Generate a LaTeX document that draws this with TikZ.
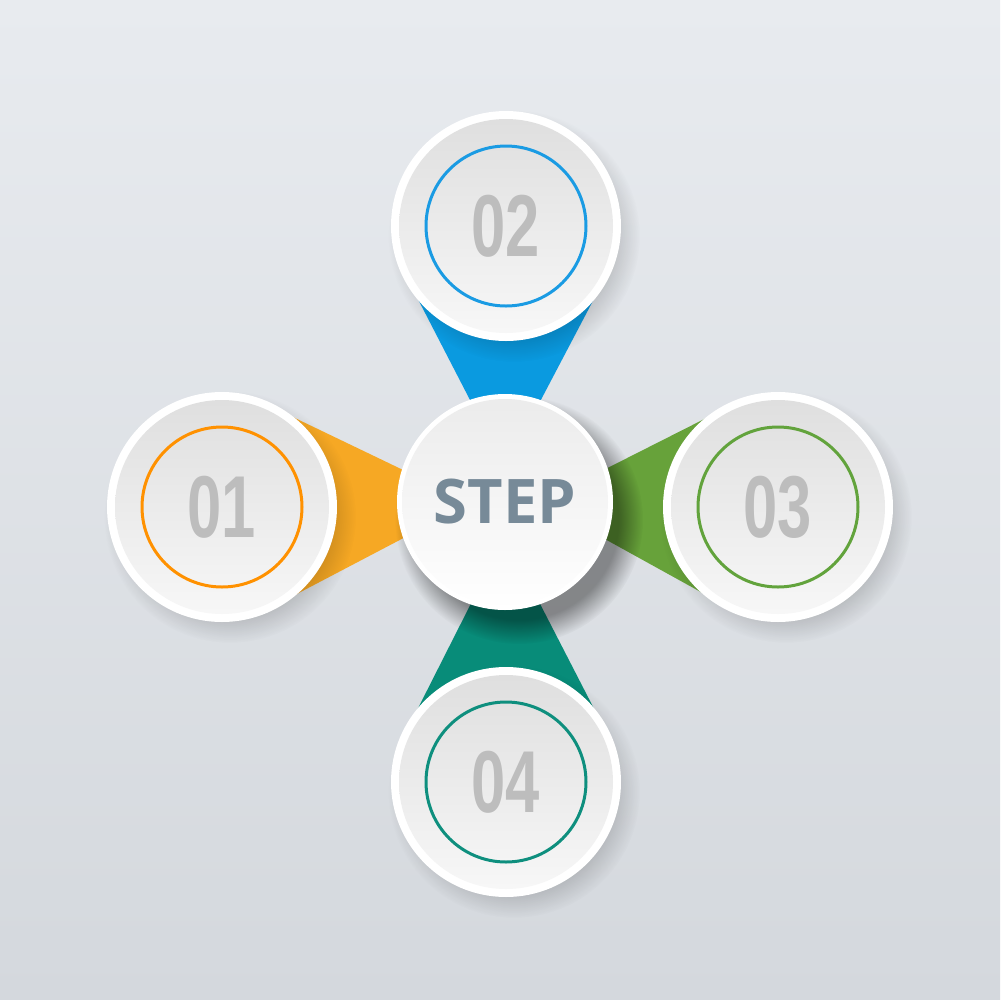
\documentclass[tikz,border=0pt]{standalone}
\usepackage{fontspec}
\usetikzlibrary{calc, fadings, backgrounds}

\newfontfamily\numfont{Liberation Sans}
\newfontfamily\stepfont{Open Sans}

\definecolor{bgTop}{HTML}{E8EBEF}
\definecolor{bgBot}{HTML}{D4D8DD}
\definecolor{diskTop}{HTML}{DEDEDE}
\definecolor{diskBot}{HTML}{F8F8F8}
\definecolor{hubTop}{HTML}{EBEBEB}
\definecolor{numGray}{HTML}{BDBDBD}
\definecolor{stepGray}{HTML}{778A98}
\definecolor{orangeRib}{HTML}{F6A824}
\definecolor{orangeRing}{HTML}{FF9100}
\definecolor{blueRib}{HTML}{0A9AE0}
\definecolor{blueRing}{HTML}{1A9BE3}
\definecolor{greenRib}{HTML}{67A23A}
\definecolor{greenRing}{HTML}{62A33C}
\definecolor{tealRib}{HTML}{088C79}
\definecolor{tealRing}{HTML}{0E8F7E}

\newcommand{\stepnum}[1]{\scalebox{0.7}[1]{#1}}

\begin{document}
\begin{tikzpicture}[
    x=0.1mm, y=-0.1mm, % 1 unit = 1 px of the layout
    % --- STYLES ---
    disc/.style={circle, fill=white, inner sep=0pt, minimum size=23mm,
        path picture={\shade[top color=diskTop, bottom color=diskBot]
            (path picture bounding box.center) circle (10.7mm);}},
    hubdisc/.style={circle, fill=white, inner sep=0pt, minimum size=21.6mm,
        font=\stepfont\bfseries\fontsize{17.5}{17.5}\selectfont, text=stepGray,
        path picture={\shade[top color=hubTop, bottom color=white]
            (path picture bounding box.center) circle (10.3mm);}},
    ring/.style={circle, draw=#1, line width=0.3mm, minimum size=16mm, inner sep=0pt,
        font=\numfont\bfseries\fontsize{25}{25}\selectfont, text=numGray},
    softshadow/.style={fill=black, opacity=#1, path fading=circle with fuzzy edge 20 percent}
]
\useasboundingbox (0,0) rectangle (1000,1000);

% --- HUB ---
\node (hub) [hubdisc] at (505,502) {STEP};

% --- STEPS ---
\node (s1) [disc] at (222,507) {};
\node (s2) [disc] at (506,226) {};
\node (s3) [disc] at (778,507) {};
\node (s4) [disc] at (506,782) {};

\node (n1) [ring=orangeRing] at (s1) {\stepnum{01}};
\node (n2) [ring=blueRing] at (s2) {\stepnum{02}};
\node (n3) [ring=greenRing] at (s3) {\stepnum{03}};
\node (n4) [ring=tealRing] at (s4) {\stepnum{04}};

\begin{scope}[on background layer]
% background
\shade[top color=bgTop, bottom color=bgBot] (0,0) rectangle (1000,1000);

% ribbons from hub to each step
\fill[orangeRib] ($(hub.center)!3.4mm!(s1.center)$) -- ($(s1.center)!5mm!(hub.center)!10mm!90:(hub.center)$)
    -- (s1.center) -- ($(s1.center)!5mm!(hub.center)!10mm!-90:(hub.center)$) -- cycle;
\fill[blueRib] ($(hub.center)!3.4mm!(s2.center)$) -- ($(s2.center)!5mm!(hub.center)!10mm!90:(hub.center)$)
    -- (s2.center) -- ($(s2.center)!5mm!(hub.center)!10mm!-90:(hub.center)$) -- cycle;
\fill[greenRib] ($(hub.center)!3.4mm!(s3.center)$) -- ($(s3.center)!5mm!(hub.center)!10mm!90:(hub.center)$)
    -- (s3.center) -- ($(s3.center)!5mm!(hub.center)!10mm!-90:(hub.center)$) -- cycle;
\fill[tealRib] ($(hub.center)!3.4mm!(s4.center)$) -- ($(s4.center)!5mm!(hub.center)!10mm!90:(hub.center)$)
    -- (s4.center) -- ($(s4.center)!5mm!(hub.center)!10mm!-90:(hub.center)$) -- cycle;

% soft shadows
\fill[softshadow=0.15] ($(s1.center)+(8,10)$) circle (12.6mm);
\fill[softshadow=0.15] ($(s2.center)+(8,10)$) circle (12.6mm);
\fill[softshadow=0.15] ($(s3.center)+(8,10)$) circle (12.6mm);
\fill[softshadow=0.15] ($(s4.center)+(8,10)$) circle (12.6mm);
\fill[softshadow=0.4] ($(hub.center)+(14,18)$) circle (12.4mm);
\end{scope}

\end{tikzpicture}
\end{document}
